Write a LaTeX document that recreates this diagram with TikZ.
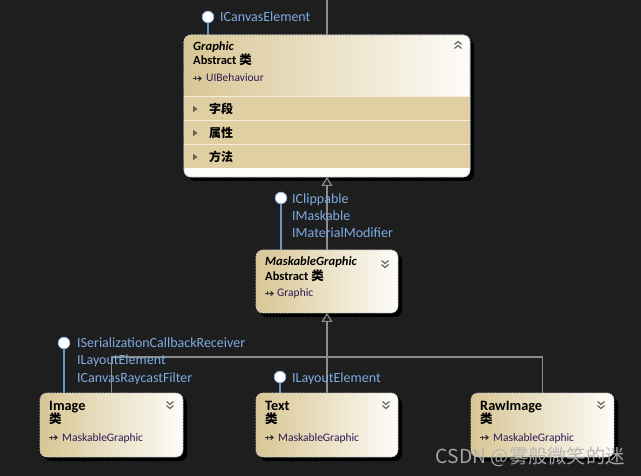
\documentclass[tikz,border=0pt]{standalone}
\usepackage{fontspec}
\setmainfont{Carlito}
\newfontfamily\cjk{Noto Sans CJK SC}
\usetikzlibrary{arrows.meta,shadows}
\definecolor{bg}{RGB}{30,30,30}
\definecolor{conn}{RGB}{140,140,140}
\definecolor{beigeL}{RGB}{216,198,148}
\definecolor{beigeR}{RGB}{253,252,248}
\definecolor{band}{RGB}{223,207,163}
\definecolor{bandsep}{RGB}{244,238,220}
\definecolor{boxedge}{RGB}{200,200,200}
\definecolor{basecls}{RGB}{45,25,85}
\definecolor{ifaceblue}{RGB}{125,172,226}
\definecolor{lolline}{RGB}{105,150,200}
\definecolor{lolliedge}{RGB}{150,185,225}
\definecolor{chevc}{RGB}{105,105,105}
\definecolor{iconc}{RGB}{60,60,60}
\definecolor{expc}{RGB}{105,95,75}
\definecolor{wmc}{RGB}{178,178,178}
\begin{document}
\begin{tikzpicture}[x=1pt,y=-1pt,
  classbox/.style={rounded corners=7pt, draw=boxedge, dash pattern=on 2pt off 1pt,
    line width=0.7pt, left color=beigeL, right color=beigeR,
    general shadow={fill=black, shadow xshift=4pt, shadow yshift=-4pt},
    inner sep=0pt, outer sep=0pt, anchor=north west},
  conn/.style={draw=conn, line width=1.2pt},
  inh/.style={conn, -{Triangle[open, length=9pt, width=11pt, line width=1.2pt]}},
  lolli/.style={circle, draw=lolliedge, fill=white, minimum size=11.5pt, inner sep=0pt, line width=0.8pt},
  lolline/.style={draw=lolline, line width=1.3pt},
  ttl/.style={font=\fontsize{14.3}{16}\selectfont\bfseries, anchor=base west, inner sep=0pt},
  ttli/.style={font=\fontsize{12.6}{15}\selectfont\bfseries\itshape, anchor=base west, inner sep=0pt},
  kind/.style={font=\fontsize{12.5}{15}\selectfont\bfseries, anchor=base west, inner sep=0pt},
  basec/.style={font=\fontsize{11.5}{13}\selectfont, text=basecls, anchor=base west, inner sep=0pt},
  iface/.style={font=\fontsize{14}{16}\selectfont, text=ifaceblue, anchor=base west, inner sep=0pt},
  comp/.style={font=\cjk\fontsize{12}{14}\selectfont\bfseries, anchor=west, inner sep=0pt},
  chev/.style={draw=chevc, line width=1.2pt},
  chevdown/.pic={\draw[chev] (-3.5,-3.5) -- (0,-0.5) -- (3.5,-3.5);
                 \draw[chev] (-3.5,0.5) -- (0,3.5) -- (3.5,0.5);},
  chevup/.pic={\draw[chev] (-3.5,-0.5) -- (0,-3.5) -- (3.5,-0.5);
               \draw[chev] (-3.5,3.5) -- (0,0.5) -- (3.5,3.5);},
  inhicon/.pic={\draw[iconc, line width=0.9pt] (0,0) -- (6,0);
                \fill[iconc] (5.5,-3) -- (9,0) -- (5.5,3) -- cycle;
                \draw[iconc, line width=0.9pt] (2,-2) -- (2,2);},
  expander/.pic={\fill[expc] (-2,-3.2) -- (2.5,0) -- (-2,3.2) -- cycle;}
]
\fill[bg] (0,0) rectangle (641,476);
\useasboundingbox (0,0) rectangle (641,476);

% ---------- class boxes ----------
\node[classbox, minimum width=286pt, minimum height=142pt] (g) at (184,35) {};
\begin{scope}
  \clip[rounded corners=7pt] (g.north west) rectangle (g.south east);
  \fill[band] (184,96) rectangle (470,168);
  \fill[beigeR] (184,168) rectangle (470,177);
  \draw[bandsep, line width=1pt] (184,96.5) -- (470,96.5);
  \draw[bandsep, line width=1pt] (184,121) -- (470,121);
  \draw[bandsep, line width=1pt] (184,145) -- (470,145);
\end{scope}
\draw[boxedge, dash pattern=on 2pt off 1pt, line width=0.7pt, rounded corners=7pt]
  (g.north west) rectangle (g.south east);

\node[classbox, minimum width=142pt, minimum height=63pt] (m) at (256,250) {};
\node[classbox, minimum width=143pt, minimum height=64pt] (img) at (40,393) {};
\node[classbox, minimum width=142pt, minimum height=64pt] (txt) at (256,393) {};
\node[classbox, minimum width=143pt, minimum height=64pt] (raw) at (471,393) {};

% ---------- Graphic contents ----------
\node[ttli] (gN) at (193,51) {Graphic};
\node[kind] (gK) at (193,65) {Abstract {\cjk\bfseries 类}};
\pic at (193,78.5) {inhicon};
\node[basec] (gB) at (206,82) {UIBehaviour};
\pic at (458,45) {chevup};
\pic at (195,109) {expander};
\node[comp] (c1) at (209,108.5) {字段};
\pic at (195,133) {expander};
\node[comp] (c2) at (209,132.5) {属性};
\pic at (195,157) {expander};
\node[comp] (c3) at (209,156.5) {方法};

% ---------- MaskableGraphic contents ----------
\node[ttli] (mN) at (265,266) {MaskableGraphic};
\node[kind] (mK) at (265,281) {Abstract {\cjk\bfseries 类}};
\pic at (265,293.5) {inhicon};
\node[basec] (mB) at (277,297) {Graphic};
\pic at (385,264) {chevdown};

% ---------- Image / Text / RawImage ----------
\node[ttl] (iN) at (49,410) {Image};
\node[kind] (iK) at (49,424) {\cjk\bfseries 类};
\pic at (49,437.5) {inhicon};
\node[basec] (iB) at (62,441) {MaskableGraphic};
\pic at (170,405) {chevdown};

\node[ttl] (tN) at (265,410) {Text};
\node[kind] (tK) at (265,424) {\cjk\bfseries 类};
\pic at (265,437.5) {inhicon};
\node[basec] (tB) at (278,441) {MaskableGraphic};
\pic at (386,405) {chevdown};

\node[ttl] (rN) at (480,410) {RawImage};
\node[kind] (rK) at (480,424) {\cjk\bfseries 类};
\pic at (480,437.5) {inhicon};
\node[basec] (rB) at (493,441) {MaskableGraphic};
\pic at (601,405) {chevdown};

% ---------- inheritance connectors ----------
\coordinate (topend) at (327,0);
\draw[conn] (topend) -- (g.north);
\draw[inh] (m.north) -- (g.south);
\coordinate (junc) at (327,357);
\draw[inh] (txt.north) -- (m.south);
\draw[conn] (img.north) |- (junc);
\draw[conn] (raw.north) |- (junc);

% ---------- lollipops ----------
\node[lolli] (l1) at (208,17) {};
\draw[lolline] (l1) -- (l1 |- g.north);
\node[iface] (l1a) at (220,22) {ICanvasElement};

\node[lolli] (l2) at (281,198) {};
\draw[lolline] (l2) -- (l2 |- m.north);
\node[iface] (l2a) at (292,204) {IClippable};
\node[iface] (l2b) at (292,221) {IMaskable};
\node[iface] (l2c) at (292,238) {IMaterialModifier};

\node[lolli] (l3) at (64,343) {};
\draw[lolline] (l3) -- (l3 |- img.north);
\node[iface] (l3a) at (77,348) {ISerializationCallbackReceiver};
\node[iface] (l3b) at (77,365) {ILayoutElement};
\node[iface] (l3c) at (77,382) {ICanvasRaycastFilter};

\node[lolli] (l4) at (280,377) {};
\draw[lolline] (l4) -- (l4 |- txt.north);
\node[iface] (l4a) at (292,382) {ILayoutElement};

% ---------- watermark ----------
\node[font=\cjk\fontsize{19.3}{21}\selectfont, text=wmc, text opacity=0.9, anchor=base east, inner sep=0pt] (wm) at (625,463) {CSDN @雾般微笑的迷};
\end{tikzpicture}
\end{document}
